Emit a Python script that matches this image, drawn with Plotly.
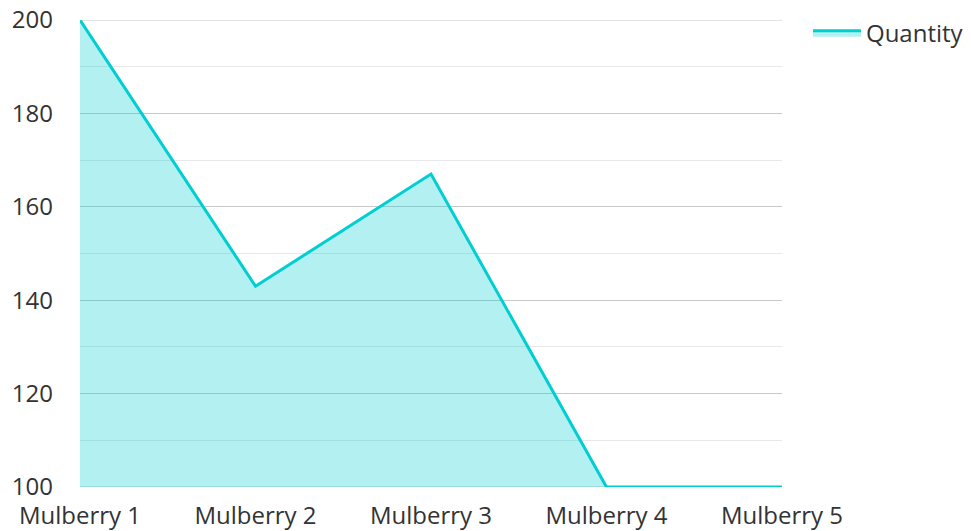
import plotly.graph_objects as go

categories = ["Mulberry 1", "Mulberry 2", "Mulberry 3", "Mulberry 4", "Mulberry 5"]
quantity = [200, 143, 167, 100, 100]
series_name = "Quantity"
y_min, y_max = 100, 200

fig = go.Figure()
fig.add_trace(go.Scatter(
    x=categories, y=quantity, name=series_name, mode="lines",
    line=dict(color="#00CED1", width=3),
    fill="tozeroy", fillcolor="rgba(0,206,209,0.3)",
))

fig.update_layout(
    width=971, height=531,
    margin=dict(l=80, r=189, t=20, b=44, autoexpand=False),
    paper_bgcolor="white", plot_bgcolor="white",
    font=dict(family="Open Sans", size=24, color="#333333"),
    showlegend=True,
    legend=dict(x=1.037, y=1.02, xanchor="left", yanchor="top", itemwidth=48,
                font=dict(size=24, color="#333333"), bgcolor="rgba(0,0,0,0)"),
)
# edge gridlines (Plotly omits them at the range ends)
for yv in (y_min, y_max):
    fig.add_shape(type="line", xref="paper", yref="y", x0=0, x1=1, y0=yv, y1=yv,
                  line=dict(color="#c8c8c8", width=1), layer="below")

fig.update_xaxes(
    type="category", range=[0, 4], showgrid=False, zeroline=False,
    showline=False, ticks="", ticklabelstandoff=12, automargin=False,
    ticklabeloverflow="allow",
)
fig.update_yaxes(
    range=[y_min, y_max], tick0=100, dtick=20, showgrid=True, gridcolor="#c8c8c8",
    gridwidth=1, zeroline=False, showline=False, ticks="",
    ticklabelstandoff=26, automargin=False, ticklabeloverflow="allow",
    minor=dict(dtick=10, showgrid=True, gridcolor="#e8e8e8", gridwidth=1),
)

fig.write_html("out.html", config={"displayModeBar": False},
               post_script="document.body.style.margin='0';")
